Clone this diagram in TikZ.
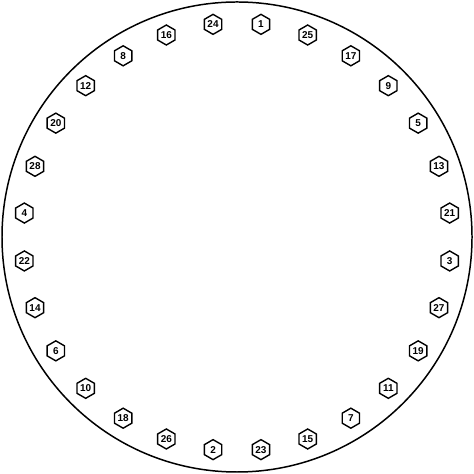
\documentclass[tikz,border=0pt]{standalone}
\usepackage{fontspec}
\setmainfont{Liberation Sans}
\usepackage{tikz}
\usetikzlibrary{shapes.geometric,calc}
\tikzset{
    bolthex/.style={regular polygon, regular polygon sides=6, shape border rotate=30,
        draw, line width=1.4pt, inner sep=0pt, minimum size=20bp,
        font=\fontsize{10}{10}\selectfont\bfseries},
}

\begin{document}
\begin{tikzpicture}[x=1bp, y=1bp]
    %% Background
    \useasboundingbox (0,0) rectangle (474,474);
    %% Flange
    \draw[line width=1.5pt] (237,237) circle (235);
    %% Bolts
    \foreach \n [count=\k from 0] in {1,25,17,9,5,13,21,3,27,19,11,7,15,23,2,26,18,10,6,14,22,4,28,20,12,8,16,24}
    {
        \node[bolthex] (bolt\n) at ($(237,237)+(83.57-\k*12.857:214)$) {\n};
    }
\end{tikzpicture}
\end{document}
